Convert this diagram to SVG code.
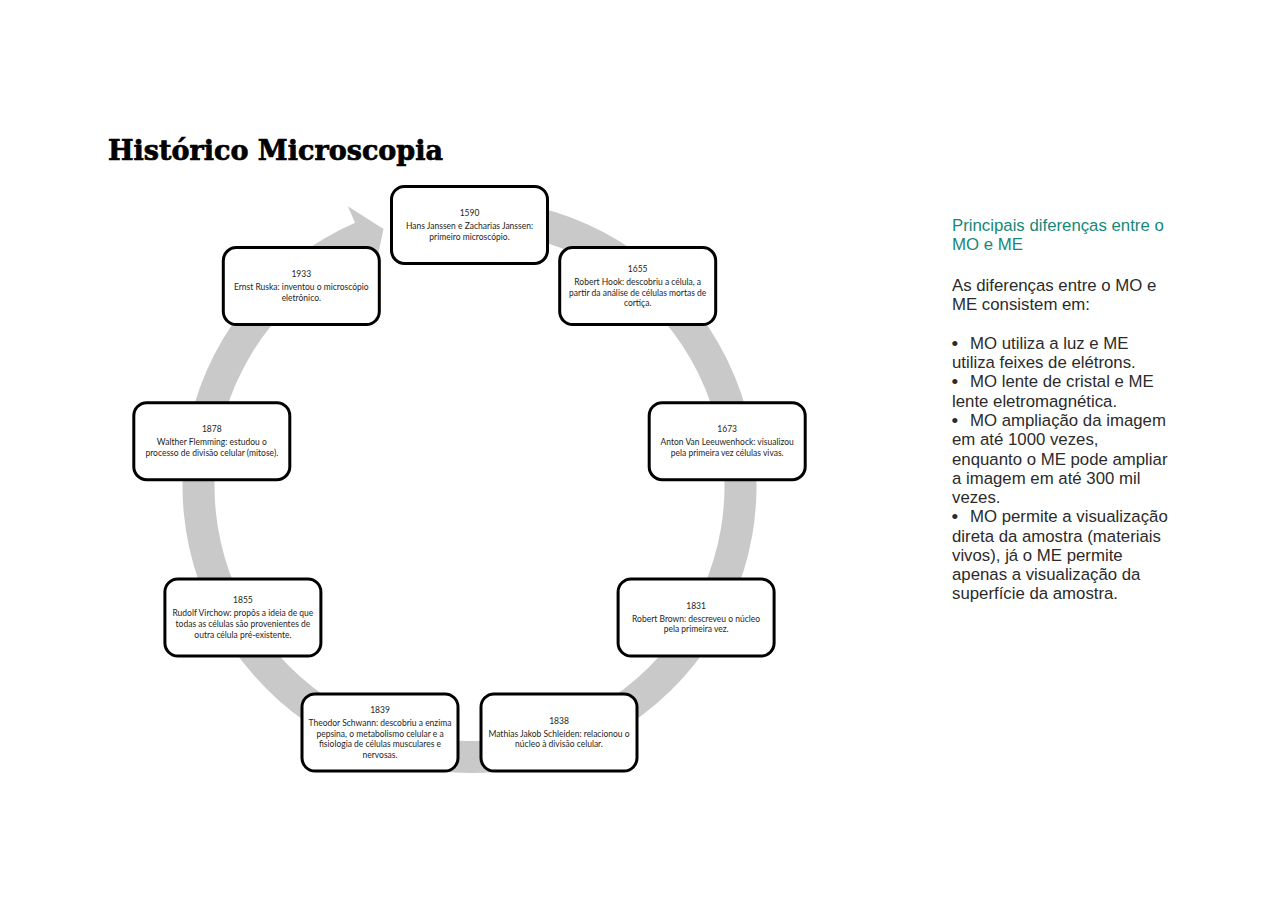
<svg xmlns="http://www.w3.org/2000/svg" width="1280" height="905" viewBox="0 0 1280 905">
<style>
.bg{fill:#ffffff}
.box{fill:#ffffff;stroke:#000000;stroke-width:3}
.nt{font-family:Lato,"Liberation Sans",sans-serif;font-size:8.5px;fill:#1e1e1e;text-anchor:middle}
.ring{fill:#c9c9c9;stroke:none}
.title{font-family:"DejaVu Serif","Liberation Serif",serif;font-weight:bold;font-size:27px;fill:#000000;stroke:#000000;stroke-width:0.7}
.side{font-family:"Liberation Sans",Arial,sans-serif;font-size:16.8px;fill:#2b2b2b}
.bul{font-family:"Liberation Sans",Arial,sans-serif;font-size:19px;fill:#2b2b2b}
.head{font-family:"Liberation Sans",Arial,sans-serif;font-size:16.8px;fill:#17877a}
</style>
<rect class="bg" x="0" y="0" width="1280" height="905"/>
<text class="title" x="108" y="160" textLength="335" lengthAdjust="spacingAndGlyphs">Histórico Microscopia</text>

<g id="connectors">
<path class="ring" d="M 429.56 201.79 A 287 287 0 1 1 355.06 222.80 L 347.88 206.30 L 383.51 229.0 L 375.0 268.66 L 367.82 252.15 A 255 255 0 1 0 434.01 233.48 Z"/>
</g>

<g id="n1590">
<rect class="box" x="391.5" y="186.4" width="156" height="77" rx="13"/>
<text class="nt" x="469.5" y="216.1">1590</text>
<text class="nt" x="469.5" y="229.1">Hans Janssen e Zacharias Janssen:</text>
<text class="nt" x="469.5" y="239.8">primeiro microscópio.</text>
</g>

<g id="n1655">
<rect class="box" x="559.7" y="247.6" width="156" height="77" rx="13"/>
<text class="nt" x="637.7" y="271.9">1655</text>
<text class="nt" x="637.7" y="284.9">Robert Hook: descobriu a célula, a</text>
<text class="nt" x="637.7" y="295.6">partir da análise de células mortas de</text>
<text class="nt" x="637.7" y="306.3">cortiça.</text>
</g>

<g id="n1673">
<rect class="box" x="649.2" y="402.7" width="156" height="77" rx="13"/>
<text class="nt" x="727.2" y="432.4">1673</text>
<text class="nt" x="727.2" y="445.4">Anton Van Leeuwenhock: visualizou</text>
<text class="nt" x="727.2" y="456.1">pela primeira vez células vivas.</text>
</g>

<g id="n1831">
<rect class="box" x="618.1" y="579" width="156" height="77" rx="13"/>
<text class="nt" x="696.1" y="608.7">1831</text>
<text class="nt" x="696.1" y="621.7">Robert Brown: descreveu o núcleo</text>
<text class="nt" x="696.1" y="632.4">pela primeira vez.</text>
</g>

<g id="n1838">
<rect class="box" x="481" y="694" width="156" height="77" rx="13"/>
<text class="nt" x="559" y="723.7">1838</text>
<text class="nt" x="559" y="736.7">Mathias Jakob Schleiden: relacionou o</text>
<text class="nt" x="559" y="747.4">núcleo à divisão celular.</text>
</g>

<g id="n1839">
<rect class="box" x="302" y="694" width="156" height="77" rx="13"/>
<text class="nt" x="380" y="713">1839</text>
<text class="nt" x="380" y="726">Theodor Schwann: descobriu a enzima</text>
<text class="nt" x="380" y="736.7">pepsina, o metabolismo celular e a</text>
<text class="nt" x="380" y="747.4">fisiologia de células musculares e</text>
<text class="nt" x="380" y="758.1">nervosas.</text>
</g>

<g id="n1855">
<rect class="box" x="164.9" y="579" width="156" height="77" rx="13"/>
<text class="nt" x="242.9" y="603.3">1855</text>
<text class="nt" x="242.9" y="616.3">Rudolf Virchow: propôs a ideia de que</text>
<text class="nt" x="242.9" y="627">todas as células são provenientes de</text>
<text class="nt" x="242.9" y="637.7">outra célula pré-existente.</text>
</g>

<g id="n1878">
<rect class="box" x="133.8" y="402.7" width="156" height="77" rx="13"/>
<text class="nt" x="211.8" y="432.4">1878</text>
<text class="nt" x="211.8" y="445.4">Walther Flemming: estudou o</text>
<text class="nt" x="211.8" y="456.1">processo de divisão celular (mitose).</text>
</g>

<g id="n1933">
<rect class="box" x="223.3" y="247.6" width="156" height="77" rx="13"/>
<text class="nt" x="301.3" y="277.3">1933</text>
<text class="nt" x="301.3" y="290.3">Ernst Ruska: inventou o microscópio</text>
<text class="nt" x="301.3" y="301">eletrônico.</text>
</g>

<g id="side-panel">
<text class="head" x="952" y="230.5">Principais diferenças entre o</text>
<text class="head" x="952" y="249.5">MO e ME</text>
<text class="side" x="952" y="291">As diferenças entre o MO e</text>
<text class="side" x="952" y="310.3">ME consistem em:</text>
<text class="bul" x="951.5" y="349.6">•</text><text class="side" x="970" y="348.9">MO utiliza a luz e ME</text>
<text class="side" x="952" y="368.2">utiliza feixes de elétrons.</text>
<text class="bul" x="951.5" y="388.1">•</text><text class="side" x="970" y="387.4">MO lente de cristal e ME</text>
<text class="side" x="952" y="406.7">lente eletromagnética.</text>
<text class="bul" x="951.5" y="426.7">•</text><text class="side" x="970" y="426">MO ampliação da imagem</text>
<text class="side" x="952" y="445.2">em até 1000 vezes,</text>
<text class="side" x="952" y="464.5">enquanto o ME pode ampliar</text>
<text class="side" x="952" y="483.8">a imagem em até 300 mil</text>
<text class="side" x="952" y="503">vezes.</text>
<text class="bul" x="951.5" y="523">•</text><text class="side" x="970" y="522.3">MO permite a visualização</text>
<text class="side" x="952" y="541.6">direta da amostra (materiais</text>
<text class="side" x="952" y="560.8">vivos), já o ME permite</text>
<text class="side" x="952" y="580.1">apenas a visualização da</text>
<text class="side" x="952" y="599.4">superfície da amostra.</text>
</g>
</svg>
